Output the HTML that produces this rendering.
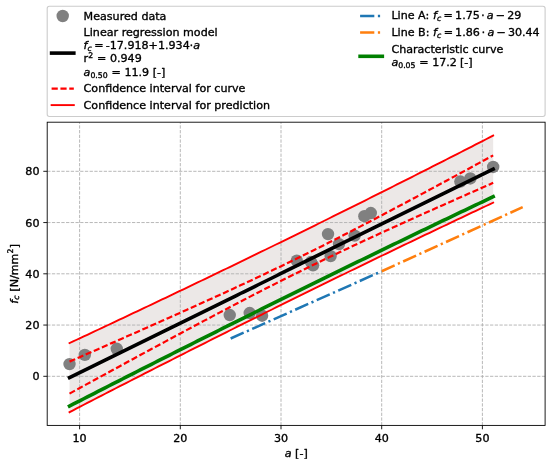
<!DOCTYPE html>
<html><head><meta charset="utf-8"><title>chart</title>
<style>html,body{margin:0;padding:0;background:#fff;}svg{display:block;filter:blur(0.3px);}svg text{fill:#000;stroke:#000;stroke-width:0.35px;stroke-linejoin:round;}</style>
</head><body>
<svg width="550" height="462" viewBox="0 0 550 462">
<rect width="550" height="462" fill="#fff"/>
<defs><clipPath id="ax"><rect x="47.2" y="122.2" width="497.90000000000003" height="303.2"/></clipPath></defs>
<rect x="47.2" y="122.2" width="497.90000000000003" height="303.2" fill="#fff"/>
<g clip-path="url(#ax)">
<path d="M69.53 343.09 L73.09 341.43 L76.65 339.76 L80.21 338.10 L83.77 336.43 L87.33 334.77 L90.89 333.10 L94.45 331.43 L98.01 329.76 L101.57 328.09 L105.13 326.41 L108.69 324.74 L112.25 323.06 L115.81 321.39 L119.37 319.71 L122.93 318.03 L126.49 316.35 L130.05 314.67 L133.61 312.98 L137.17 311.30 L140.73 309.61 L144.29 307.93 L147.85 306.24 L151.41 304.55 L154.97 302.86 L158.53 301.16 L162.09 299.47 L165.65 297.77 L169.21 296.08 L172.77 294.38 L176.33 292.68 L179.89 290.98 L183.45 289.28 L187.01 287.57 L190.57 285.87 L194.13 284.16 L197.69 282.46 L201.25 280.75 L204.81 279.04 L208.37 277.32 L211.93 275.61 L215.49 273.90 L219.05 272.18 L222.61 270.46 L226.17 268.74 L229.73 267.02 L233.29 265.30 L236.85 263.58 L240.41 261.85 L243.97 260.12 L247.53 258.40 L251.09 256.67 L254.65 254.94 L258.21 253.20 L261.77 251.47 L265.33 249.73 L268.89 248.00 L272.45 246.26 L276.01 244.52 L279.57 242.78 L283.13 241.03 L286.69 239.29 L290.25 237.54 L293.81 235.79 L297.37 234.05 L300.93 232.29 L304.49 230.54 L308.05 228.79 L311.61 227.03 L315.17 225.28 L318.73 223.52 L322.29 221.76 L325.85 220.00 L329.41 218.24 L332.97 216.47 L336.53 214.71 L340.09 212.94 L343.65 211.17 L347.21 209.40 L350.77 207.63 L354.33 205.85 L357.89 204.08 L361.45 202.30 L365.01 200.53 L368.57 198.75 L372.13 196.97 L375.69 195.18 L379.25 193.40 L382.81 191.62 L386.37 189.83 L389.93 188.04 L393.49 186.25 L397.05 184.46 L400.61 182.67 L404.17 180.87 L407.73 179.08 L411.29 177.28 L414.85 175.48 L418.41 173.69 L421.97 171.88 L425.53 170.08 L429.09 168.28 L432.65 166.47 L436.21 164.67 L439.77 162.86 L443.33 161.05 L446.89 159.24 L450.45 157.43 L454.01 155.62 L457.57 153.80 L461.13 151.99 L464.69 150.17 L468.25 148.35 L471.81 146.53 L475.37 144.71 L478.93 142.89 L482.49 141.06 L486.05 139.24 L489.61 137.41 L493.17 135.58 L493.17 202.65 L489.61 204.33 L486.05 206.01 L482.49 207.69 L478.93 209.37 L475.37 211.05 L471.81 212.73 L468.25 214.42 L464.69 216.10 L461.13 217.79 L457.57 219.48 L454.01 221.17 L450.45 222.86 L446.89 224.55 L443.33 226.24 L439.77 227.94 L436.21 229.63 L432.65 231.33 L429.09 233.03 L425.53 234.73 L421.97 236.43 L418.41 238.14 L414.85 239.84 L411.29 241.55 L407.73 243.26 L404.17 244.96 L400.61 246.67 L397.05 248.39 L393.49 250.10 L389.93 251.81 L386.37 253.53 L382.81 255.25 L379.25 256.97 L375.69 258.69 L372.13 260.41 L368.57 262.13 L365.01 263.86 L361.45 265.58 L357.89 267.31 L354.33 269.04 L350.77 270.77 L347.21 272.51 L343.65 274.24 L340.09 275.97 L336.53 277.71 L332.97 279.45 L329.41 281.19 L325.85 282.93 L322.29 284.67 L318.73 286.42 L315.17 288.16 L311.61 289.91 L308.05 291.66 L304.49 293.41 L300.93 295.16 L297.37 296.92 L293.81 298.67 L290.25 300.43 L286.69 302.19 L283.13 303.95 L279.57 305.71 L276.01 307.47 L272.45 309.23 L268.89 311.00 L265.33 312.77 L261.77 314.53 L258.21 316.30 L254.65 318.08 L251.09 319.85 L247.53 321.62 L243.97 323.40 L240.41 325.18 L236.85 326.96 L233.29 328.74 L229.73 330.52 L226.17 332.30 L222.61 334.09 L219.05 335.87 L215.49 337.66 L211.93 339.45 L208.37 341.24 L204.81 343.03 L201.25 344.83 L197.69 346.62 L194.13 348.42 L190.57 350.22 L187.01 352.01 L183.45 353.81 L179.89 355.62 L176.33 357.42 L172.77 359.23 L169.21 361.03 L165.65 362.84 L162.09 364.65 L158.53 366.46 L154.97 368.27 L151.41 370.08 L147.85 371.90 L144.29 373.71 L140.73 375.53 L137.17 377.35 L133.61 379.17 L130.05 380.99 L126.49 382.81 L122.93 384.63 L119.37 386.46 L115.81 388.28 L112.25 390.11 L108.69 391.94 L105.13 393.77 L101.57 395.60 L98.01 397.43 L94.45 399.27 L90.89 401.10 L87.33 402.94 L83.77 404.77 L80.21 406.61 L76.65 408.45 L73.09 410.29 L69.53 412.13 Z" fill="#ece8e7"/>
<line x1="79.60" y1="425.4" x2="79.60" y2="122.2" stroke="#b0b0b0" stroke-width="0.900" stroke-dasharray="3.289 1.422"/>
<line x1="180.30" y1="425.4" x2="180.30" y2="122.2" stroke="#b0b0b0" stroke-width="0.900" stroke-dasharray="3.289 1.422"/>
<line x1="281.00" y1="425.4" x2="281.00" y2="122.2" stroke="#b0b0b0" stroke-width="0.900" stroke-dasharray="3.289 1.422"/>
<line x1="381.70" y1="425.4" x2="381.70" y2="122.2" stroke="#b0b0b0" stroke-width="0.900" stroke-dasharray="3.289 1.422"/>
<line x1="482.40" y1="425.4" x2="482.40" y2="122.2" stroke="#b0b0b0" stroke-width="0.900" stroke-dasharray="3.289 1.422"/>
<line x1="47.2" y1="376.30" x2="545.1" y2="376.30" stroke="#b0b0b0" stroke-width="0.900" stroke-dasharray="3.289 1.422"/>
<line x1="47.2" y1="325.05" x2="545.1" y2="325.05" stroke="#b0b0b0" stroke-width="0.900" stroke-dasharray="3.289 1.422"/>
<line x1="47.2" y1="273.80" x2="545.1" y2="273.80" stroke="#b0b0b0" stroke-width="0.900" stroke-dasharray="3.289 1.422"/>
<line x1="47.2" y1="222.55" x2="545.1" y2="222.55" stroke="#b0b0b0" stroke-width="0.900" stroke-dasharray="3.289 1.422"/>
<line x1="47.2" y1="171.30" x2="545.1" y2="171.30" stroke="#b0b0b0" stroke-width="0.900" stroke-dasharray="3.289 1.422"/>
<circle cx="69.53" cy="364.10" r="6.2" fill="#808080"/>
<circle cx="84.84" cy="354.90" r="6.2" fill="#808080"/>
<circle cx="116.76" cy="348.80" r="6.2" fill="#808080"/>
<circle cx="229.74" cy="315.06" r="6.2" fill="#808080"/>
<circle cx="249.68" cy="313.01" r="6.2" fill="#808080"/>
<circle cx="262.07" cy="315.70" r="6.2" fill="#808080"/>
<circle cx="296.81" cy="260.73" r="6.2" fill="#808080"/>
<circle cx="311.01" cy="262.01" r="6.2" fill="#808080"/>
<circle cx="313.02" cy="265.34" r="6.2" fill="#808080"/>
<circle cx="330.65" cy="256.12" r="6.2" fill="#808080"/>
<circle cx="328.03" cy="234.08" r="6.2" fill="#808080"/>
<circle cx="339.00" cy="244.08" r="6.2" fill="#808080"/>
<circle cx="354.61" cy="235.62" r="6.2" fill="#808080"/>
<circle cx="364.38" cy="216.14" r="6.2" fill="#808080"/>
<circle cx="370.82" cy="213.07" r="6.2" fill="#808080"/>
<circle cx="460.35" cy="181.55" r="6.2" fill="#808080"/>
<circle cx="470.32" cy="178.47" r="6.2" fill="#808080"/>
<circle cx="493.17" cy="166.94" r="6.2" fill="#808080"/>
<path d="M69.53 377.61 L73.09 375.86 L76.65 374.11 L80.21 372.36 L83.77 370.60 L87.33 368.85 L90.89 367.10 L94.45 365.35 L98.01 363.60 L101.57 361.84 L105.13 360.09 L108.69 358.34 L112.25 356.59 L115.81 354.84 L119.37 353.08 L122.93 351.33 L126.49 349.58 L130.05 347.83 L133.61 346.08 L137.17 344.32 L140.73 342.57 L144.29 340.82 L147.85 339.07 L151.41 337.31 L154.97 335.56 L158.53 333.81 L162.09 332.06 L165.65 330.31 L169.21 328.55 L172.77 326.80 L176.33 325.05 L179.89 323.30 L183.45 321.55 L187.01 319.79 L190.57 318.04 L194.13 316.29 L197.69 314.54 L201.25 312.79 L204.81 311.03 L208.37 309.28 L211.93 307.53 L215.49 305.78 L219.05 304.03 L222.61 302.27 L226.17 300.52 L229.73 298.77 L233.29 297.02 L236.85 295.27 L240.41 293.51 L243.97 291.76 L247.53 290.01 L251.09 288.26 L254.65 286.51 L258.21 284.75 L261.77 283.00 L265.33 281.25 L268.89 279.50 L272.45 277.75 L276.01 275.99 L279.57 274.24 L283.13 272.49 L286.69 270.74 L290.25 268.99 L293.81 267.23 L297.37 265.48 L300.93 263.73 L304.49 261.98 L308.05 260.22 L311.61 258.47 L315.17 256.72 L318.73 254.97 L322.29 253.22 L325.85 251.46 L329.41 249.71 L332.97 247.96 L336.53 246.21 L340.09 244.46 L343.65 242.70 L347.21 240.95 L350.77 239.20 L354.33 237.45 L357.89 235.70 L361.45 233.94 L365.01 232.19 L368.57 230.44 L372.13 228.69 L375.69 226.94 L379.25 225.18 L382.81 223.43 L386.37 221.68 L389.93 219.93 L393.49 218.18 L397.05 216.42 L400.61 214.67 L404.17 212.92 L407.73 211.17 L411.29 209.42 L414.85 207.66 L418.41 205.91 L421.97 204.16 L425.53 202.41 L429.09 200.66 L432.65 198.90 L436.21 197.15 L439.77 195.40 L443.33 193.65 L446.89 191.89 L450.45 190.14 L454.01 188.39 L457.57 186.64 L461.13 184.89 L464.69 183.13 L468.25 181.38 L471.81 179.63 L475.37 177.88 L478.93 176.13 L482.49 174.37 L486.05 172.62 L489.61 170.87 L493.17 169.12" fill="none" stroke="#000" stroke-width="3.60" stroke-linecap="square" stroke-linejoin="round"/>
<path d="M69.53 361.62 L73.09 360.07 L76.65 358.51 L80.21 356.95 L83.77 355.39 L87.33 353.83 L90.89 352.27 L94.45 350.71 L98.01 349.14 L101.57 347.58 L105.13 346.02 L108.69 344.45 L112.25 342.88 L115.81 341.32 L119.37 339.75 L122.93 338.18 L126.49 336.61 L130.05 335.04 L133.61 333.47 L137.17 331.89 L140.73 330.32 L144.29 328.74 L147.85 327.16 L151.41 325.58 L154.97 324.00 L158.53 322.42 L162.09 320.84 L165.65 319.25 L169.21 317.66 L172.77 316.07 L176.33 314.48 L179.89 312.89 L183.45 311.29 L187.01 309.69 L190.57 308.09 L194.13 306.49 L197.69 304.88 L201.25 303.28 L204.81 301.66 L208.37 300.05 L211.93 298.43 L215.49 296.81 L219.05 295.19 L222.61 293.56 L226.17 291.93 L229.73 290.29 L233.29 288.65 L236.85 287.01 L240.41 285.36 L243.97 283.71 L247.53 282.05 L251.09 280.39 L254.65 278.72 L258.21 277.05 L261.77 275.37 L265.33 273.69 L268.89 272.00 L272.45 270.30 L276.01 268.60 L279.57 266.89 L283.13 265.18 L286.69 263.46 L290.25 261.73 L293.81 260.00 L297.37 258.26 L300.93 256.52 L304.49 254.76 L308.05 253.01 L311.61 251.24 L315.17 249.47 L318.73 247.69 L322.29 245.90 L325.85 244.11 L329.41 242.31 L332.97 240.51 L336.53 238.70 L340.09 236.89 L343.65 235.06 L347.21 233.24 L350.77 231.41 L354.33 229.57 L357.89 227.73 L361.45 225.88 L365.01 224.03 L368.57 222.17 L372.13 220.31 L375.69 218.44 L379.25 216.57 L382.81 214.70 L386.37 212.83 L389.93 210.94 L393.49 209.06 L397.05 207.17 L400.61 205.28 L404.17 203.39 L407.73 201.49 L411.29 199.60 L414.85 197.69 L418.41 195.79 L421.97 193.88 L425.53 191.98 L429.09 190.07 L432.65 188.15 L436.21 186.24 L439.77 184.32 L443.33 182.40 L446.89 180.48 L450.45 178.56 L454.01 176.64 L457.57 174.71 L461.13 172.79 L464.69 170.86 L468.25 168.93 L471.81 167.00 L475.37 165.07 L478.93 163.13 L482.49 161.20 L486.05 159.26 L489.61 157.33 L493.17 155.39" fill="none" stroke="#ff0000" stroke-width="2.20" stroke-dasharray="6.17 2.67"/>
<path d="M69.53 393.60 L73.09 391.65 L76.65 389.71 L80.21 387.76 L83.77 385.82 L87.33 383.87 L90.89 381.93 L94.45 379.99 L98.01 378.05 L101.57 376.11 L105.13 374.17 L108.69 372.23 L112.25 370.29 L115.81 368.35 L119.37 366.42 L122.93 364.48 L126.49 362.55 L130.05 360.62 L133.61 358.68 L137.17 356.75 L140.73 354.83 L144.29 352.90 L147.85 350.97 L151.41 349.05 L154.97 347.12 L158.53 345.20 L162.09 343.28 L165.65 341.36 L169.21 339.45 L172.77 337.53 L176.33 335.62 L179.89 333.71 L183.45 331.80 L187.01 329.90 L190.57 327.99 L194.13 326.09 L197.69 324.19 L201.25 322.30 L204.81 320.40 L208.37 318.51 L211.93 316.63 L215.49 314.74 L219.05 312.86 L222.61 310.99 L226.17 309.12 L229.73 307.25 L233.29 305.38 L236.85 303.52 L240.41 301.67 L243.97 299.81 L247.53 297.97 L251.09 296.13 L254.65 294.29 L258.21 292.46 L261.77 290.63 L265.33 288.81 L268.89 287.00 L272.45 285.19 L276.01 283.38 L279.57 281.59 L283.13 279.80 L286.69 278.01 L290.25 276.24 L293.81 274.46 L297.37 272.70 L300.93 270.94 L304.49 269.19 L308.05 267.44 L311.61 265.71 L315.17 263.97 L318.73 262.25 L322.29 260.53 L325.85 258.82 L329.41 257.11 L332.97 255.41 L336.53 253.72 L340.09 252.03 L343.65 250.34 L347.21 248.67 L350.77 246.99 L354.33 245.33 L357.89 243.67 L361.45 242.01 L365.01 240.36 L368.57 238.71 L372.13 237.07 L375.69 235.43 L379.25 233.79 L382.81 232.16 L386.37 230.53 L389.93 228.91 L393.49 227.29 L397.05 225.67 L400.61 224.06 L404.17 222.45 L407.73 220.84 L411.29 219.23 L414.85 217.63 L418.41 216.03 L421.97 214.43 L425.53 212.84 L429.09 211.24 L432.65 209.65 L436.21 208.06 L439.77 206.48 L443.33 204.89 L446.89 203.31 L450.45 201.72 L454.01 200.14 L457.57 198.57 L461.13 196.99 L464.69 195.41 L468.25 193.84 L471.81 192.26 L475.37 190.69 L478.93 189.12 L482.49 187.55 L486.05 185.98 L489.61 184.41 L493.17 182.85" fill="none" stroke="#ff0000" stroke-width="2.20" stroke-dasharray="6.17 2.67"/>
<path d="M69.53 343.09 L73.09 341.43 L76.65 339.76 L80.21 338.10 L83.77 336.43 L87.33 334.77 L90.89 333.10 L94.45 331.43 L98.01 329.76 L101.57 328.09 L105.13 326.41 L108.69 324.74 L112.25 323.06 L115.81 321.39 L119.37 319.71 L122.93 318.03 L126.49 316.35 L130.05 314.67 L133.61 312.98 L137.17 311.30 L140.73 309.61 L144.29 307.93 L147.85 306.24 L151.41 304.55 L154.97 302.86 L158.53 301.16 L162.09 299.47 L165.65 297.77 L169.21 296.08 L172.77 294.38 L176.33 292.68 L179.89 290.98 L183.45 289.28 L187.01 287.57 L190.57 285.87 L194.13 284.16 L197.69 282.46 L201.25 280.75 L204.81 279.04 L208.37 277.32 L211.93 275.61 L215.49 273.90 L219.05 272.18 L222.61 270.46 L226.17 268.74 L229.73 267.02 L233.29 265.30 L236.85 263.58 L240.41 261.85 L243.97 260.12 L247.53 258.40 L251.09 256.67 L254.65 254.94 L258.21 253.20 L261.77 251.47 L265.33 249.73 L268.89 248.00 L272.45 246.26 L276.01 244.52 L279.57 242.78 L283.13 241.03 L286.69 239.29 L290.25 237.54 L293.81 235.79 L297.37 234.05 L300.93 232.29 L304.49 230.54 L308.05 228.79 L311.61 227.03 L315.17 225.28 L318.73 223.52 L322.29 221.76 L325.85 220.00 L329.41 218.24 L332.97 216.47 L336.53 214.71 L340.09 212.94 L343.65 211.17 L347.21 209.40 L350.77 207.63 L354.33 205.85 L357.89 204.08 L361.45 202.30 L365.01 200.53 L368.57 198.75 L372.13 196.97 L375.69 195.18 L379.25 193.40 L382.81 191.62 L386.37 189.83 L389.93 188.04 L393.49 186.25 L397.05 184.46 L400.61 182.67 L404.17 180.87 L407.73 179.08 L411.29 177.28 L414.85 175.48 L418.41 173.69 L421.97 171.88 L425.53 170.08 L429.09 168.28 L432.65 166.47 L436.21 164.67 L439.77 162.86 L443.33 161.05 L446.89 159.24 L450.45 157.43 L454.01 155.62 L457.57 153.80 L461.13 151.99 L464.69 150.17 L468.25 148.35 L471.81 146.53 L475.37 144.71 L478.93 142.89 L482.49 141.06 L486.05 139.24 L489.61 137.41 L493.17 135.58" fill="none" stroke="#ff0000" stroke-width="1.90" stroke-linecap="square" stroke-linejoin="round"/>
<path d="M69.53 412.13 L73.09 410.29 L76.65 408.45 L80.21 406.61 L83.77 404.77 L87.33 402.94 L90.89 401.10 L94.45 399.27 L98.01 397.43 L101.57 395.60 L105.13 393.77 L108.69 391.94 L112.25 390.11 L115.81 388.28 L119.37 386.46 L122.93 384.63 L126.49 382.81 L130.05 380.99 L133.61 379.17 L137.17 377.35 L140.73 375.53 L144.29 373.71 L147.85 371.90 L151.41 370.08 L154.97 368.27 L158.53 366.46 L162.09 364.65 L165.65 362.84 L169.21 361.03 L172.77 359.23 L176.33 357.42 L179.89 355.62 L183.45 353.81 L187.01 352.01 L190.57 350.22 L194.13 348.42 L197.69 346.62 L201.25 344.83 L204.81 343.03 L208.37 341.24 L211.93 339.45 L215.49 337.66 L219.05 335.87 L222.61 334.09 L226.17 332.30 L229.73 330.52 L233.29 328.74 L236.85 326.96 L240.41 325.18 L243.97 323.40 L247.53 321.62 L251.09 319.85 L254.65 318.08 L258.21 316.30 L261.77 314.53 L265.33 312.77 L268.89 311.00 L272.45 309.23 L276.01 307.47 L279.57 305.71 L283.13 303.95 L286.69 302.19 L290.25 300.43 L293.81 298.67 L297.37 296.92 L300.93 295.16 L304.49 293.41 L308.05 291.66 L311.61 289.91 L315.17 288.16 L318.73 286.42 L322.29 284.67 L325.85 282.93 L329.41 281.19 L332.97 279.45 L336.53 277.71 L340.09 275.97 L343.65 274.24 L347.21 272.51 L350.77 270.77 L354.33 269.04 L357.89 267.31 L361.45 265.58 L365.01 263.86 L368.57 262.13 L372.13 260.41 L375.69 258.69 L379.25 256.97 L382.81 255.25 L386.37 253.53 L389.93 251.81 L393.49 250.10 L397.05 248.39 L400.61 246.67 L404.17 244.96 L407.73 243.26 L411.29 241.55 L414.85 239.84 L418.41 238.14 L421.97 236.43 L425.53 234.73 L429.09 233.03 L432.65 231.33 L436.21 229.63 L439.77 227.94 L443.33 226.24 L446.89 224.55 L450.45 222.86 L454.01 221.17 L457.57 219.48 L461.13 217.79 L464.69 216.10 L468.25 214.42 L471.81 212.73 L475.37 211.05 L478.93 209.37 L482.49 207.69 L486.05 206.01 L489.61 204.33 L493.17 202.65" fill="none" stroke="#ff0000" stroke-width="1.90" stroke-linecap="square" stroke-linejoin="round"/>
<path d="M230.65 338.50 L381.70 271.24" fill="none" stroke="#1f77b4" stroke-width="2.50" stroke-dasharray="14.22 3.56 2.22 3.56"/>
<path d="M381.70 271.24 L522.68 207.18" fill="none" stroke="#ff7f0e" stroke-width="2.50" stroke-dasharray="14.22 3.56 2.22 3.56"/>
<path d="M69.53 406.04 L73.09 404.22 L76.65 402.39 L80.21 400.57 L83.77 398.74 L87.33 396.92 L90.89 395.10 L94.45 393.28 L98.01 391.46 L101.57 389.64 L105.13 387.83 L108.69 386.01 L112.25 384.20 L115.81 382.38 L119.37 380.57 L122.93 378.76 L126.49 376.95 L130.05 375.14 L133.61 373.33 L137.17 371.52 L140.73 369.71 L144.29 367.91 L147.85 366.10 L151.41 364.30 L154.97 362.50 L158.53 360.70 L162.09 358.90 L165.65 357.10 L169.21 355.30 L172.77 353.50 L176.33 351.71 L179.89 349.91 L183.45 348.12 L187.01 346.33 L190.57 344.54 L194.13 342.75 L197.69 340.96 L201.25 339.17 L204.81 337.39 L208.37 335.60 L211.93 333.82 L215.49 332.04 L219.05 330.25 L222.61 328.47 L226.17 326.69 L229.73 324.92 L233.29 323.14 L236.85 321.36 L240.41 319.59 L243.97 317.82 L247.53 316.05 L251.09 314.28 L254.65 312.51 L258.21 310.74 L261.77 308.97 L265.33 307.21 L268.89 305.44 L272.45 303.68 L276.01 301.92 L279.57 300.15 L283.13 298.40 L286.69 296.64 L290.25 294.88 L293.81 293.12 L297.37 291.37 L300.93 289.62 L304.49 287.87 L308.05 286.11 L311.61 284.36 L315.17 282.62 L318.73 280.87 L322.29 279.12 L325.85 277.38 L329.41 275.64 L332.97 273.89 L336.53 272.15 L340.09 270.41 L343.65 268.68 L347.21 266.94 L350.77 265.20 L354.33 263.47 L357.89 261.73 L361.45 260.00 L365.01 258.27 L368.57 256.54 L372.13 254.81 L375.69 253.09 L379.25 251.36 L382.81 249.63 L386.37 247.91 L389.93 246.19 L393.49 244.47 L397.05 242.75 L400.61 241.03 L404.17 239.31 L407.73 237.59 L411.29 235.88 L414.85 234.16 L418.41 232.45 L421.97 230.74 L425.53 229.03 L429.09 227.32 L432.65 225.61 L436.21 223.90 L439.77 222.20 L443.33 220.49 L446.89 218.79 L450.45 217.09 L454.01 215.38 L457.57 213.68 L461.13 211.98 L464.69 210.29 L468.25 208.59 L471.81 206.89 L475.37 205.20 L478.93 203.50 L482.49 201.81 L486.05 200.12 L489.61 198.43 L493.17 196.74" fill="none" stroke="#008000" stroke-width="3.60" stroke-linecap="square" stroke-linejoin="round"/>
</g>
<rect x="47.2" y="122.2" width="497.90000000000003" height="303.2" fill="none" stroke="#000" stroke-width="0.889" stroke-linejoin="miter"/>
<line x1="79.60" y1="425.4" x2="79.60" y2="429.29" stroke="#000" stroke-width="0.889"/>
<text x="79.60" y="441.5" text-anchor="middle" font-size="11.111" font-family="'DejaVu Sans', 'Liberation Sans', sans-serif">10</text>
<line x1="180.30" y1="425.4" x2="180.30" y2="429.29" stroke="#000" stroke-width="0.889"/>
<text x="180.30" y="441.5" text-anchor="middle" font-size="11.111" font-family="'DejaVu Sans', 'Liberation Sans', sans-serif">20</text>
<line x1="281.00" y1="425.4" x2="281.00" y2="429.29" stroke="#000" stroke-width="0.889"/>
<text x="281.00" y="441.5" text-anchor="middle" font-size="11.111" font-family="'DejaVu Sans', 'Liberation Sans', sans-serif">30</text>
<line x1="381.70" y1="425.4" x2="381.70" y2="429.29" stroke="#000" stroke-width="0.889"/>
<text x="381.70" y="441.5" text-anchor="middle" font-size="11.111" font-family="'DejaVu Sans', 'Liberation Sans', sans-serif">40</text>
<line x1="482.40" y1="425.4" x2="482.40" y2="429.29" stroke="#000" stroke-width="0.889"/>
<text x="482.40" y="441.5" text-anchor="middle" font-size="11.111" font-family="'DejaVu Sans', 'Liberation Sans', sans-serif">50</text>
<line x1="47.2" y1="376.30" x2="43.31" y2="376.30" stroke="#000" stroke-width="0.889"/>
<text x="39.5" y="380.35" text-anchor="end" font-size="11.111" font-family="'DejaVu Sans', 'Liberation Sans', sans-serif">0</text>
<line x1="47.2" y1="325.05" x2="43.31" y2="325.05" stroke="#000" stroke-width="0.889"/>
<text x="39.5" y="329.10" text-anchor="end" font-size="11.111" font-family="'DejaVu Sans', 'Liberation Sans', sans-serif">20</text>
<line x1="47.2" y1="273.80" x2="43.31" y2="273.80" stroke="#000" stroke-width="0.889"/>
<text x="39.5" y="277.85" text-anchor="end" font-size="11.111" font-family="'DejaVu Sans', 'Liberation Sans', sans-serif">40</text>
<line x1="47.2" y1="222.55" x2="43.31" y2="222.55" stroke="#000" stroke-width="0.889"/>
<text x="39.5" y="226.60" text-anchor="end" font-size="11.111" font-family="'DejaVu Sans', 'Liberation Sans', sans-serif">60</text>
<line x1="47.2" y1="171.30" x2="43.31" y2="171.30" stroke="#000" stroke-width="0.889"/>
<text x="39.5" y="175.35" text-anchor="end" font-size="11.111" font-family="'DejaVu Sans', 'Liberation Sans', sans-serif">80</text>
<text font-family="'DejaVu Sans', 'Liberation Sans', sans-serif"><tspan x="284.76" y="456.50" font-size="11.111" font-style="oblique">a</tspan><tspan x="295.10" y="456.50" font-size="11.111">[</tspan><tspan x="299.44" y="456.50" font-size="11.111">-</tspan><tspan x="303.45" y="456.50" font-size="11.111">]</tspan></text>
<g transform="translate(17.6 303.68) rotate(-90)"><text font-family="'DejaVu Sans', 'Liberation Sans', sans-serif"><tspan x="0.00" y="0.00" font-size="11.111" font-style="oblique">f</tspan><tspan x="3.91" y="1.82" font-size="7.778" font-style="oblique">c</tspan><tspan x="12.02" y="0.00" font-size="11.111">[</tspan><tspan x="16.36" y="0.00" font-size="11.111">N</tspan><tspan x="24.67" y="0.00" font-size="11.111">/</tspan><tspan x="28.41" y="0.00" font-size="11.111">m</tspan><tspan x="39.24" y="0.00" font-size="11.111">m</tspan><tspan x="50.17" y="-4.25" font-size="7.778">2</tspan><tspan x="55.42" y="0.00" font-size="11.111">]</tspan></text></g>
<rect x="47.2" y="6.3" width="497.90000000000003" height="110.2" rx="2.2" ry="2.2" fill="#fff" fill-opacity="0.8" stroke="#cccccc" stroke-width="1.111"/>
<circle cx="62.71" cy="16.0" r="6.2" fill="#808080"/>
<line x1="51.6" y1="53.1" x2="73.82" y2="53.1" stroke="#000" stroke-width="3.60" stroke-linecap="square"/>
<line x1="51.6" y1="88.7" x2="73.82" y2="88.7" stroke="#ff0000" stroke-width="2.20" stroke-dasharray="6.17 2.67"/>
<line x1="51.6" y1="105.1" x2="73.82" y2="105.1" stroke="#ff0000" stroke-width="1.90" stroke-linecap="square"/>
<line x1="360.1" y1="16.0" x2="382.32" y2="16.0" stroke="#1f77b4" stroke-width="2.50" stroke-dasharray="14.22 3.56 2.22 3.56"/>
<line x1="360.1" y1="32.5" x2="382.32" y2="32.5" stroke="#ff7f0e" stroke-width="2.50" stroke-dasharray="14.22 3.56 2.22 3.56"/>
<line x1="360.1" y1="56.3" x2="382.32" y2="56.3" stroke="#008000" stroke-width="3.60" stroke-linecap="square"/>
<text x="83.6" y="19.5" font-size="11.111" font-family="'DejaVu Sans', 'Liberation Sans', sans-serif">Measured data</text>
<text x="83.6" y="36.0" font-size="11.111" font-family="'DejaVu Sans', 'Liberation Sans', sans-serif">Linear regression model</text>
<text font-family="'DejaVu Sans', 'Liberation Sans', sans-serif"><tspan x="83.60" y="49.00" font-size="11.111" font-style="oblique">f</tspan><tspan x="87.51" y="50.82" font-size="7.778" font-style="oblique">c</tspan><tspan x="94.26" y="49.00" font-size="11.111">=</tspan><tspan x="105.73" y="49.00" font-size="11.111">-17.918+1.934</tspan><tspan x="189.74" y="49.00" font-size="11.111">⋅</tspan><tspan x="193.27" y="49.00" font-size="11.111" font-style="oblique">a</tspan></text>
<text font-family="'DejaVu Sans', 'Liberation Sans', sans-serif"><tspan x="83.60" y="62.40" font-size="11.111">r</tspan><tspan x="88.27" y="58.15" font-size="7.778">2</tspan><tspan x="97.06" y="62.40" font-size="11.111">=</tspan><tspan x="109.90" y="62.40" font-size="11.111">0.949</tspan></text>
<text font-family="'DejaVu Sans', 'Liberation Sans', sans-serif"><tspan x="83.60" y="76.00" font-size="11.111" font-style="oblique">a</tspan><tspan x="90.41" y="77.82" font-size="7.778">0.50</tspan><tspan x="111.56" y="76.00" font-size="11.111">=</tspan><tspan x="124.40" y="76.00" font-size="11.111">11.9</tspan><tspan x="152.68" y="76.00" font-size="11.111">[-]</tspan></text>
<text x="83.6" y="92.3" font-size="11.111" font-family="'DejaVu Sans', 'Liberation Sans', sans-serif">Confidence interval for curve</text>
<text x="83.6" y="109.0" font-size="11.111" font-family="'DejaVu Sans', 'Liberation Sans', sans-serif">Confidence interval for prediction</text>
<text font-family="'DejaVu Sans', 'Liberation Sans', sans-serif"><tspan x="391.40" y="19.20" font-size="11.111">Line A:</tspan><tspan x="432.96" y="19.20" font-size="11.111" font-style="oblique">f</tspan><tspan x="436.88" y="21.02" font-size="7.778" font-style="oblique">c</tspan><tspan x="443.62" y="19.20" font-size="11.111">=</tspan><tspan x="455.09" y="19.20" font-size="11.111">1.75</tspan><tspan x="481.17" y="19.20" font-size="11.111">⋅</tspan><tspan x="486.86" y="19.20" font-size="11.111" font-style="oblique">a</tspan><tspan x="495.84" y="19.20" font-size="11.111">−</tspan><tspan x="507.31" y="19.20" font-size="11.111">29</tspan></text>
<text font-family="'DejaVu Sans', 'Liberation Sans', sans-serif"><tspan x="391.40" y="35.70" font-size="11.111">Line B:</tspan><tspan x="432.99" y="35.70" font-size="11.111" font-style="oblique">f</tspan><tspan x="436.90" y="37.52" font-size="7.778" font-style="oblique">c</tspan><tspan x="443.64" y="35.70" font-size="11.111">=</tspan><tspan x="455.12" y="35.70" font-size="11.111">1.86</tspan><tspan x="481.74" y="35.70" font-size="11.111">⋅</tspan><tspan x="487.44" y="35.70" font-size="11.111" font-style="oblique">a</tspan><tspan x="496.41" y="35.70" font-size="11.111">−</tspan><tspan x="507.89" y="35.70" font-size="11.111">30.44</tspan></text>
<text x="391.4" y="53.2" font-size="11.111" font-family="'DejaVu Sans', 'Liberation Sans', sans-serif">Characteristic curve</text>
<text font-family="'DejaVu Sans', 'Liberation Sans', sans-serif"><tspan x="391.40" y="66.30" font-size="11.111" font-style="oblique">a</tspan><tspan x="398.21" y="68.12" font-size="7.778">0.05</tspan><tspan x="419.36" y="66.30" font-size="11.111">=</tspan><tspan x="432.20" y="66.30" font-size="11.111">17.2</tspan><tspan x="459.92" y="66.30" font-size="11.111">[-]</tspan></text>
</svg>
</body></html>
